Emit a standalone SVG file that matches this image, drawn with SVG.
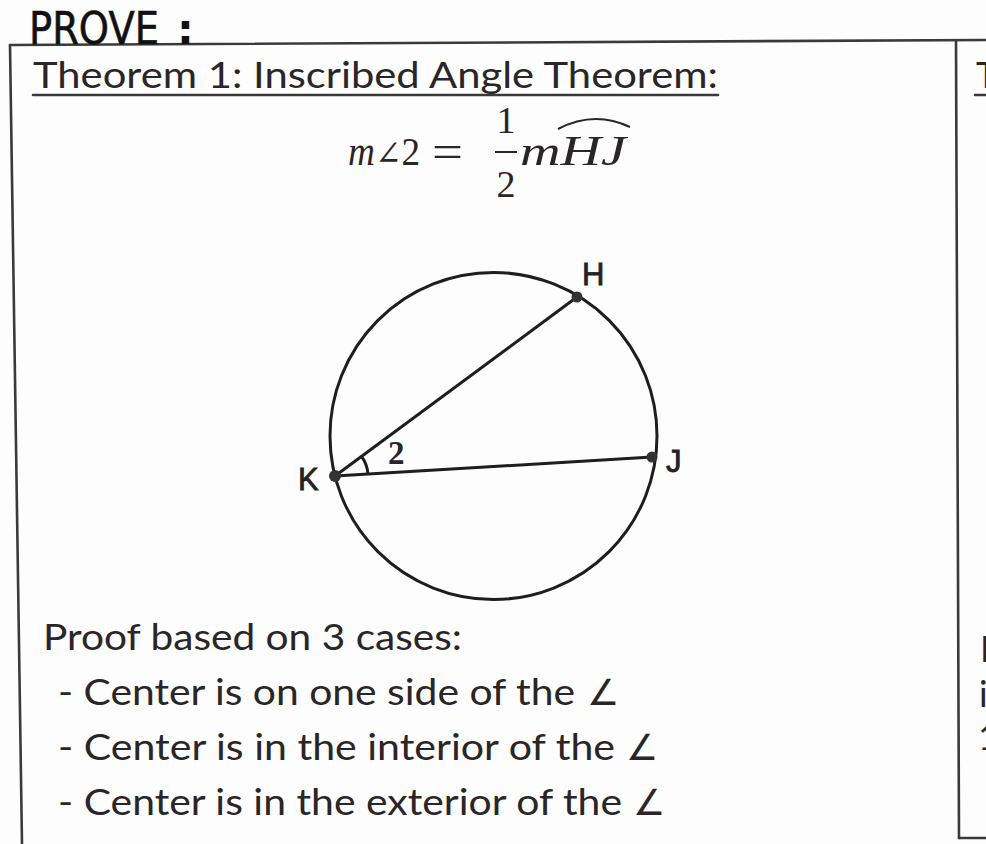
<svg xmlns="http://www.w3.org/2000/svg" width="986" height="844" viewBox="0 0 986 844">
<style>
.frame{fill:none;stroke:#3a3a3a;stroke-width:2.6;stroke-linecap:round}
.geo{fill:none;stroke:#1e1e1e;stroke-width:3}
.dot{fill:#333}
.cal{font-family:Lato,"Open Sans",sans-serif;fill:#2a2527}
.lbl{font-family:"Liberation Sans",Arial,sans-serif;fill:#222;font-size:31px;stroke:#222;stroke-width:0.8}
.ser{font-family:"Liberation Serif","Times New Roman",serif;fill:#2a2527}
.ang{font-family:"DejaVu Sans",sans-serif;fill:#2a2527;font-weight:200}
</style>
<rect width="986" height="844" fill="#fdfdfd"/>
<g id="frame">
<path class="frame" d="M10 45 L986 40"/>
<path class="frame" d="M10 45 L22 844"/>
<path class="frame" d="M956 41 L959 838"/>
<path class="frame" d="M959 838 L986 838"/>
<path class="frame" d="M33 95 L718 95" stroke-width="2"/>
<path class="frame" d="M975 95 L986 95" stroke-width="2"/>
</g>
<g id="prove">
<text x="29" y="44" font-family="'DejaVu Sans',sans-serif" font-size="44" fill="#111" stroke="#111" stroke-width="0.6" textLength="130" lengthAdjust="spacingAndGlyphs">PROVE</text>
<text x="177" y="44" font-family="'DejaVu Sans',sans-serif" font-size="42" font-weight="bold" fill="#111">:</text>
</g>
<g id="title">
<text class="cal" x="33" y="88" font-size="36" textLength="685" lengthAdjust="spacingAndGlyphs">Theorem 1: Inscribed Angle Theorem:</text>
<text class="cal" x="976" y="88" font-size="36">T</text>
</g>
<g id="formula">
<text class="ser" x="348" y="165" font-size="40" textLength="72" lengthAdjust="spacingAndGlyphs"><tspan font-style="italic">m</tspan><tspan font-family="'DejaVu Serif',serif" font-size="34">∠</tspan>2</text>
<text class="ser" x="432" y="167" font-size="46" textLength="31" lengthAdjust="spacingAndGlyphs">=</text>
<text class="ser" x="506" y="133" font-size="38" text-anchor="middle">1</text>
<path d="M495 152 L517 152" stroke="#2a2527" stroke-width="2"/>
<text class="ser" x="506" y="197" font-size="38" text-anchor="middle">2</text>
<text class="ser" x="520" y="165" font-size="42" font-style="italic" textLength="106" lengthAdjust="spacingAndGlyphs">mHJ</text>
<path d="M558 129 Q594 110 630 127" fill="none" stroke="#2a2527" stroke-width="2"/>
</g>
<g id="figure">
<circle class="geo" cx="493.5" cy="436" r="163.5"/>
<g id="connectors">
<path class="geo" d="M335 476 L577 297"/>
<path class="geo" d="M335 476 L652 457"/>
<path class="geo" stroke-width="2.2" d="M361.5 456.4 A33 33 0 0 1 367.9 474"/>
</g>
<g id="node-H"><circle class="dot" cx="577" cy="297" r="5.5"/><text class="lbl" x="582" y="285">H</text></g>
<g id="node-J"><circle class="dot" cx="652" cy="457" r="5.5"/><text class="lbl" x="666" y="472">J</text></g>
<g id="node-K"><circle class="dot" cx="335" cy="476" r="6"/><text class="lbl" x="298" y="490">K</text></g>
<text class="ser" x="388" y="464" font-size="33" font-weight="bold" fill="#1e1e1e">2</text>
</g>
<g id="proof">
<text class="cal" x="43" y="650" font-size="36" textLength="419" lengthAdjust="spacingAndGlyphs">Proof based on 3 cases:</text>
<text class="cal" x="58" y="705" font-size="36" textLength="517" lengthAdjust="spacingAndGlyphs">- Center is on one side of the</text>
<text class="ang" x="587" y="705" font-size="36">∠</text>
<text class="cal" x="58" y="760" font-size="36" textLength="557" lengthAdjust="spacingAndGlyphs">- Center is in the interior of the</text>
<text class="ang" x="626" y="760" font-size="36">∠</text>
<text class="cal" x="58" y="815" font-size="36" textLength="564" lengthAdjust="spacingAndGlyphs">- Center is in the exterior of the</text>
<text class="ang" x="633" y="815" font-size="36">∠</text>
<text class="cal" x="980" y="662" font-size="36">I</text>
<text class="cal" x="979" y="707" font-size="36">i</text>
<text class="cal" x="978" y="750" font-size="36">1</text>
</g>
</svg>
